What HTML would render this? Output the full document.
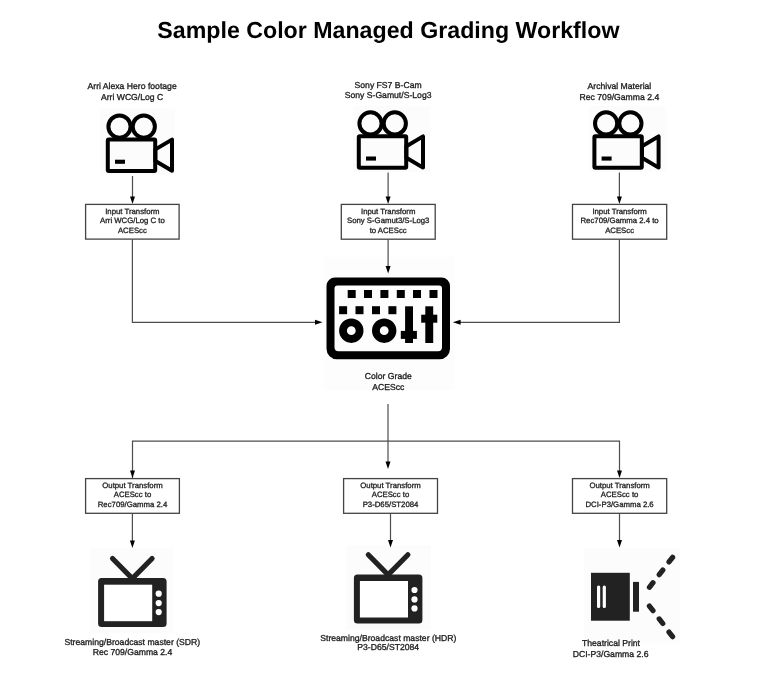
<!DOCTYPE html>
<html><head><meta charset="utf-8">
<style>
html,body{margin:0;padding:0;background:#fff;width:768px;height:680px;overflow:hidden}
svg{display:block;position:absolute;left:0;top:0}
text{font-family:"Liberation Sans",sans-serif;text-rendering:geometricPrecision}
.t{font-size:8.63px;fill:#222;stroke:#222;stroke-width:0.32;text-anchor:middle}
.b{font-size:7.77px;fill:#222;stroke:#222;stroke-width:0.3;text-anchor:middle}
.ln{stroke:#4d4d4d;stroke-width:1.2;fill:none}
.bx{stroke:#444;stroke-width:1.3;fill:#fff}
.ah{fill:#000}
</style></head>
<body>
<div style="position:absolute;left:0;top:0;width:768px;height:680px;will-change:transform"><svg width="768" height="680" viewBox="0 0 768 680">
<defs>
  <g id="cam">
    <rect x="2" y="2" width="47.4" height="31.6" rx="1" fill="none" stroke="#000" stroke-width="4"/>
    <circle cx="13.7" cy="-10.8" r="11.1" fill="none" stroke="#000" stroke-width="4"/>
    <circle cx="38.0" cy="-10.8" r="11.1" fill="none" stroke="#000" stroke-width="4"/>
    <polygon points="49.6,12 66.2,2.2 66.2,33.4 49.6,23.6" fill="none" stroke="#000" stroke-width="4" stroke-linejoin="round"/>
    <rect x="9.2" y="22.3" width="10" height="4.1" fill="#000"/>
  </g>
  <g id="tv">
    <rect x="0" y="0" width="68.5" height="49" rx="3.5" fill="#222"/>
    <rect x="6" y="6.6" width="48.1" height="36.5" fill="#fff"/>
    <circle cx="60.6" cy="15.6" r="3.1" fill="#fff"/>
    <circle cx="60.6" cy="25" r="3.1" fill="#fff"/>
    <circle cx="60.6" cy="34" r="3.1" fill="#fff"/>
    <path d="M14.4,-19.6 L34.2,0.5 L54,-19.6" fill="none" stroke="#222" stroke-width="5.2" stroke-linecap="round" stroke-linejoin="miter"/>
  </g>
</defs>

<!-- faint icon backgrounds -->
<g fill="#fcfcfc">
  <rect x="100" y="108.3" width="75" height="66.7"/>
  <rect x="353" y="106" width="77" height="66"/>
  <rect x="589" y="106" width="77" height="66"/>
  <rect x="324.3" y="256.7" width="131" height="133.2" fill="#fdfdfd"/>
  <rect x="90" y="548.3" width="83.3" height="85"/>
  <rect x="346" y="545" width="85" height="85"/>
  <rect x="583.7" y="548.3" width="96.5" height="95"/>
</g>
<!-- Title -->
<text x="388.4" y="38" style="font-size:23.2px;font-weight:bold;fill:#000;text-anchor:middle">Sample Color Managed Grading Workflow</text>

<!-- top labels -->
<text class="t" x="132.1" y="89.3">Arri Alexa Hero footage</text>
<text class="t" x="132.1" y="100">Arri WCG/Log C</text>
<text class="t" x="388.1" y="87.8">Sony FS7 B-Cam</text>
<text class="t" x="388.1" y="98.3">Sony S-Gamut/S-Log3</text>
<text class="t" x="619.4" y="89.4">Archival Material</text>
<text class="t" x="619.4" y="99.8">Rec 709/Gamma 2.4</text>

<!-- cameras -->
<use href="#cam" x="105.8" y="137.4"/>
<use href="#cam" x="356.8" y="134.2"/>
<use href="#cam" x="592.4" y="134.2"/>

<!-- camera arrows -->
<path class="ln" d="M132.5,176 V197"/>
<polygon class="ah" points="130,196.5 135,196.5 132.5,204"/>
<path class="ln" d="M388.1,172.5 V197"/>
<polygon class="ah" points="385.6,196.5 390.6,196.5 388.1,204"/>
<path class="ln" d="M619.4,172.5 V197"/>
<polygon class="ah" points="616.9,196.5 621.9,196.5 619.4,204"/>

<!-- input boxes -->
<rect class="bx" x="85.6" y="204.4" width="93.5" height="34.7"/>
<rect class="bx" x="341.3" y="204.4" width="93.9" height="34.8"/>
<rect class="bx" x="572.5" y="204.4" width="94.2" height="34.8"/>
<text class="b" x="132.4" y="213.7">Input Transform</text>
<text class="b" x="132.4" y="223.2">Arri WCG/Log C to</text>
<text class="b" x="132.4" y="232.5">ACEScc</text>
<text class="b" x="388.2" y="213.7">Input Transform</text>
<text class="b" x="388.2" y="223.2">Sony S-Gamut3/S-Log3</text>
<text class="b" x="388.2" y="232.5">to ACEScc</text>
<text class="b" x="619.6" y="213.7">Input Transform</text>
<text class="b" x="619.6" y="223.2">Rec709/Gamma 2.4 to</text>
<text class="b" x="619.6" y="232.5">ACEScc</text>

<!-- connectors to mixer -->
<path class="ln" d="M132.4,239.2 V322.3 H316"/>
<polygon class="ah" points="315,319.8 315,324.8 322.5,322.3"/>
<path class="ln" d="M388.1,239.2 V267"/>
<polygon class="ah" points="385.6,266 390.6,266 388.1,273.5"/>
<path class="ln" d="M619.4,239.2 V322.3 H460"/>
<polygon class="ah" points="460.6,319.8 460.6,324.8 452.8,322.3"/>

<!-- mixer -->
<g fill="#000">
  <path fill-rule="evenodd" d="M335.0,277.6 H441.5 A8.5,8.5 0 0 1 450,286.1 V348.8 A10.5,10.5 0 0 1 439.5,359.3 H337.0 A10.5,10.5 0 0 1 326.5,348.8 V286.1 A8.5,8.5 0 0 1 335.0,277.6 Z M337.5,285.6 H439 A3,3 0 0 1 442,288.6 V347.3 A4,4 0 0 1 438,351.3 H338.5 A4,4 0 0 1 334.5,347.3 V288.6 A3,3 0 0 1 337.5,285.6 Z"/>
  <rect x="347.7" y="290" width="8" height="8"/>
  <rect x="364" y="290" width="8" height="8"/>
  <rect x="380.4" y="290" width="8" height="8"/>
  <rect x="396.8" y="290" width="8" height="8"/>
  <rect x="413" y="290" width="8" height="8"/>
  <rect x="429.5" y="290" width="8" height="8"/>
  <rect x="339.1" y="306.2" width="8" height="8"/>
  <rect x="355.5" y="306.2" width="8" height="8"/>
  <rect x="372" y="306.2" width="8" height="8"/>
  <rect x="388.4" y="306.2" width="8" height="8"/>
  <circle cx="351.3" cy="330.7" r="8.3" fill="none" stroke="#000" stroke-width="7.8"/>
  <circle cx="384.2" cy="330.7" r="8.3" fill="none" stroke="#000" stroke-width="7.8"/>
  <rect x="405.1" y="306.3" width="7.9" height="36.7"/>
  <rect x="400.8" y="330.9" width="16.1" height="8"/>
  <rect x="425.3" y="306.3" width="7.9" height="36.7"/>
  <rect x="421.2" y="314.7" width="16.1" height="8"/>
</g>

<!-- color grade label -->
<text class="t" x="388.3" y="379">Color Grade</text>
<text class="t" x="388.3" y="389.7">ACEScc</text>

<!-- output connectors -->
<path class="ln" d="M388,404 V462"/>
<polygon class="ah" points="385.5,461.5 390.5,461.5 388,469"/>
<path class="ln" d="M132.5,478 V441.2 H619.5 V471"/>
<polygon class="ah" points="130,470.5 135,470.5 132.5,478"/>
<polygon class="ah" points="617,470.5 622,470.5 619.5,478"/>

<!-- output boxes -->
<rect class="bx" x="85.6" y="478.6" width="93.8" height="34.7"/>
<rect class="bx" x="343.6" y="478.6" width="93.9" height="34.7"/>
<rect class="bx" x="572.5" y="478.6" width="94.2" height="34.7"/>
<text class="b" x="132.5" y="487.7">Output Transform</text>
<text class="b" x="132.5" y="497.3">ACEScc to</text>
<text class="b" x="132.5" y="506.7">Rec709/Gamma 2.4</text>
<text class="b" x="390.5" y="487.7">Output Transform</text>
<text class="b" x="390.5" y="497.3">ACEScc to</text>
<text class="b" x="390.5" y="506.7">P3-D65/ST2084</text>
<text class="b" x="619.6" y="487.7">Output Transform</text>
<text class="b" x="619.6" y="497.3">ACEScc to</text>
<text class="b" x="619.6" y="506.7">DCI-P3/Gamma 2.6</text>

<!-- output arrows -->
<path class="ln" d="M132.4,513.3 V541"/>
<polygon class="ah" points="129.9,540.5 134.9,540.5 132.4,548"/>
<path class="ln" d="M390.5,513.3 V541"/>
<polygon class="ah" points="388,540 393,540 390.5,547.5"/>
<path class="ln" d="M619.5,513.3 V541"/>
<polygon class="ah" points="617,540 622,540 619.5,547.5"/>

<!-- TVs -->
<use href="#tv" x="98.1" y="578.1"/>
<use href="#tv" x="353.9" y="574.4"/>

<!-- projector -->
<g fill="#222">
  <rect x="591" y="572.8" width="38.8" height="47.9"/>
  <rect x="633" y="581.9" width="6" height="29.8"/>
</g>
<rect x="597" y="585.5" width="3.2" height="22.6" rx="1.5" fill="#fff"/>
<rect x="602.7" y="585.5" width="3.2" height="22.6" rx="1.5" fill="#fff"/>
<g stroke="#222" stroke-width="5.2" stroke-linecap="round">
  <line x1="649.4" y1="587.3" x2="653.0" y2="582.7"/>
  <line x1="659.2" y1="574.7" x2="662.8" y2="570.1"/>
  <line x1="669.0" y1="561.9" x2="672.6" y2="557.3"/>
  <line x1="649.4" y1="606.1" x2="653.0" y2="610.7"/>
  <line x1="659.2" y1="618.9" x2="662.8" y2="623.5"/>
  <line x1="669.0" y1="632.1" x2="672.6" y2="636.7"/>
</g>

<!-- bottom labels -->
<text class="t" x="132.3" y="644.7">Streaming/Broadcast master (SDR)</text>
<text class="t" x="132.5" y="654.6">Rec 709/Gamma 2.4</text>
<text class="t" x="388.3" y="640.6">Streaming/Broadcast master (HDR)</text>
<text class="t" x="388.2" y="650.4">P3-D65/ST2084</text>
<text class="t" x="611" y="646.4">Theatrical Print</text>
<text class="t" x="610.6" y="656.6">DCI-P3/Gamma 2.6</text>
</svg></div>
</body></html>
